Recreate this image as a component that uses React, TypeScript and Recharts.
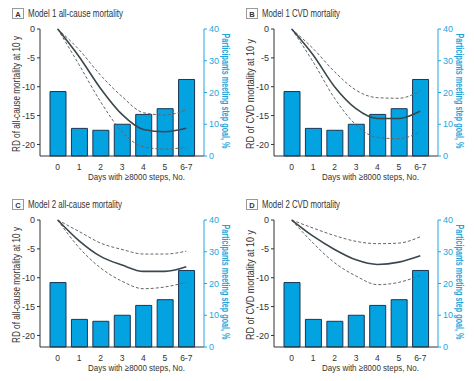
import { ComposedChart, Bar, Line, XAxis, YAxis } from 'recharts'

const days = ['0', '1', '2', '3', '4', '5', '6-7']
const pctMeetingGoal = [20.3, 8.7, 8.1, 10.0, 13.1, 14.9, 24.1]

// RD estimates with lower / upper bounds
const m1AllEst = [0, -4.8, -10.3, -14.8, -17.4, -17.8, -17.2]
const m1AllHi = [0, -3.6, -8.0, -11.7, -14.5, -14.9, -14.0]
const m1AllLo = [0, -6.2, -12.6, -17.8, -20.4, -20.8, -20.5]

const m1CvdEst = [0, -4.5, -10.0, -13.8, -15.5, -15.5, -14.2]
const m1CvdHi = [0, -3.4, -7.4, -10.6, -11.9, -12.0, -10.7]
const m1CvdLo = [0, -5.7, -12.0, -16.6, -18.8, -19.0, -17.8]

const m2AllEst = [0, -3.6, -6.3, -7.8, -8.9, -8.9, -8.1]
const m2AllHi = [0, -2.0, -4.0, -5.1, -5.9, -5.9, -5.4]
const m2AllLo = [0, -4.8, -8.3, -10.6, -11.9, -11.6, -10.8]

const m2CvdEst = [0, -2.8, -5.1, -6.9, -7.7, -7.3, -6.2]
const m2CvdHi = [0, -1.4, -2.7, -3.7, -4.1, -4.0, -2.9]
const m2CvdLo = [0, -4.0, -7.4, -9.7, -11.2, -10.8, -9.6]

const leftTicks = [0, -5, -10, -15, -20]
const rightTicks = [0, 10, 20, 30, 40]

const FONT = '"Liberation Sans", Arial, sans-serif'
const CYAN = '#1ea6dc'
const INK = '#333'

interface PanelProps {
  letter: string
  title: string
  titleWidth: number
  yLabel: string
  yLabelLen: number
  est: number[]
  hi: number[]
  lo: number[]
  left: number
  top: number
}

function Panel({ letter, title, titleWidth, yLabel, yLabelLen, est, hi, lo, left, top }: PanelProps) {
  const data = days.map((d, i) => ({ day: d, pct: pctMeetingGoal[i], est: est[i], hi: hi[i], lo: lo[i] }))
  return (
    <div style={{ position: 'absolute', left, top, width: 240, height: 190 }}>
      <svg width={237} height={22} style={{ position: 'absolute', left: 0, top: 0 }}>
        <rect x={12.5} y={8.5} width={11} height={10} fill="#fff" stroke="#999" />
        <text x={18} y={16.5} textAnchor="middle" fontSize={7.5} fontWeight={700} fill={INK} fontFamily={FONT}>{letter}</text>
        <text x={28} y={16.5} fontSize={10.5} fill={INK} fontFamily={FONT} textLength={titleWidth} lengthAdjust="spacingAndGlyphs">{title}</text>
      </svg>
      <ComposedChart width={240} height={190} data={data} margin={{ top: 29, right: 3, bottom: 0, left: 0 }}>
        <XAxis
          dataKey="day"
          height={34}
          padding={{ left: 7, right: 7 }}
          tickLine={false}
          axisLine={{ stroke: INK }}
          tick={{ fontSize: 8.5, fill: INK, fontFamily: FONT }}
          label={() => (
            <text x={136.5} y={180} textAnchor="middle" fontSize={9.5} fill={INK} fontFamily={FONT} textLength={97} lengthAdjust="spacingAndGlyphs">
              Days with ≥8000 steps, No.
            </text>
          )}
        />
        <YAxis
          yAxisId="rd"
          width={40}
          domain={[-22, 0]}
          ticks={leftTicks}
          tickSize={3}
          axisLine={{ stroke: INK }}
          tickLine={{ stroke: INK }}
          tick={{ fontSize: 9, fill: INK, fontFamily: FONT }}
          label={() => (
            <text x={19.5} y={94} transform="rotate(-90 19.5 94)" textAnchor="middle" fontSize={10} fill={INK} fontFamily={FONT} textLength={yLabelLen} lengthAdjust="spacingAndGlyphs">
              {yLabel}
            </text>
          )}
        />
        <YAxis
          yAxisId="pct"
          orientation="right"
          width={33}
          domain={[0, 40]}
          ticks={rightTicks}
          tickSize={3}
          axisLine={{ stroke: CYAN }}
          tickLine={{ stroke: CYAN }}
          tick={{ fontSize: 9, fill: CYAN, fontFamily: FONT }}
          label={() => (
            <text x={221.5} y={91} transform="rotate(90 221.5 91)" textAnchor="middle" fontSize={10} fontWeight={600} fill={CYAN} fontFamily={FONT} textLength={115} lengthAdjust="spacingAndGlyphs">
              Participants meeting step goal, %
            </text>
          )}
        />
        <Bar yAxisId="pct" dataKey="pct" fill="#03a2e0" stroke="#1d3552" strokeWidth={1} barSize={16} isAnimationActive={false} />
        <Line yAxisId="rd" type="monotone" dataKey="hi" stroke="#666" strokeWidth={1} strokeDasharray="3 2" dot={false} isAnimationActive={false} />
        <Line yAxisId="rd" type="monotone" dataKey="lo" stroke="#666" strokeWidth={1} strokeDasharray="3 2" dot={false} isAnimationActive={false} />
        <Line yAxisId="rd" type="monotone" dataKey="est" stroke="#3b474c" strokeWidth={1.6} dot={false} isAnimationActive={false} />
      </ComposedChart>
    </div>
  )
}

export default function App() {
  return (
    <div style={{ position: 'absolute', left: 0, top: 0, width: 474, height: 381, background: '#fff', overflow: 'hidden' }}>
      <Panel letter="A" title="Model 1 all-cause mortality" titleWidth={95} yLabel="RD of all-cause mortality at 10 y" yLabelLen={116} est={m1AllEst} hi={m1AllHi} lo={m1AllLo} left={0} top={0} />
      <Panel letter="B" title="Model 1 CVD mortality" titleWidth={78} yLabel="RD of CVD mortality at 10 y" yLabelLen={110} est={m1CvdEst} hi={m1CvdHi} lo={m1CvdLo} left={234} top={0} />
      <Panel letter="C" title="Model 2 all-cause mortality" titleWidth={94} yLabel="RD of all-cause mortality at 10 y" yLabelLen={116} est={m2AllEst} hi={m2AllHi} lo={m2AllLo} left={0} top={191} />
      <Panel letter="D" title="Model 2 CVD mortality" titleWidth={78} yLabel="RD of CVD mortality at 10 y" yLabelLen={110} est={m2CvdEst} hi={m2CvdHi} lo={m2CvdLo} left={234} top={191} />
    </div>
  )
}
